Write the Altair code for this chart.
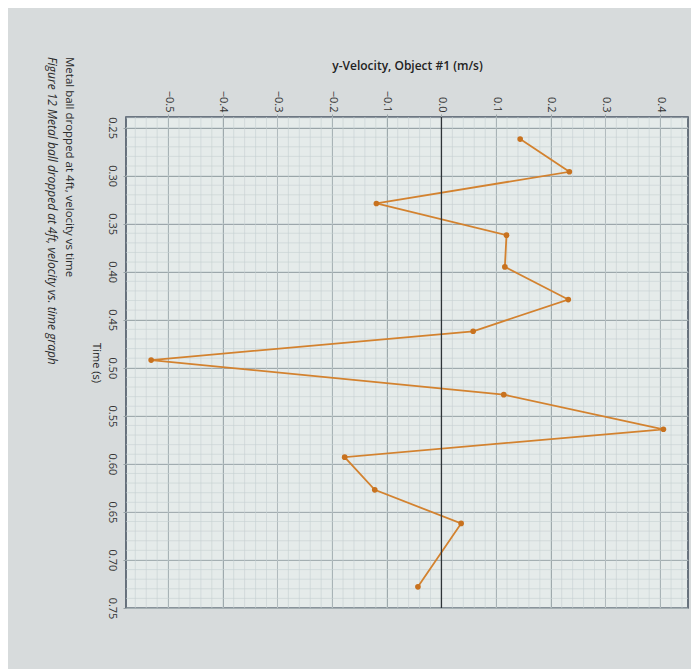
import altair as alt
import pandas as pd
import numpy as np

# Data read from the (rotated) photo
time_s = [0.262, 0.296, 0.329, 0.362, 0.395, 0.429, 0.462, 0.492, 0.528, 0.564, 0.593, 0.627, 0.662, 0.728]
velocity = [0.144, 0.234, -0.119, 0.119, 0.116, 0.232, 0.058, -0.531, 0.114, 0.406, -0.177, -0.122, 0.036, -0.043]

vel_ticks = [-0.5, -0.4, -0.3, -0.2, -0.1, 0.0, 0.1, 0.2, 0.3, 0.4]
time_ticks = [0.25, 0.30, 0.35, 0.40, 0.45, 0.50, 0.55, 0.60, 0.65, 0.70, 0.75]
vel_minor = [round(v, 2) for v in np.arange(-0.56, 0.45, 0.02)]
time_minor = [round(t, 2) for t in np.arange(0.24, 0.751, 0.01)]
zero_line = [0.0]

caption_1 = "Metal ball dropped at 4ft, velocity vs time"
caption_2 = "Figure 12 Metal ball dropped at 4ft, velocity vs. time graph"

VDOM = [-0.577, 0.451]
TDOM = [0.239, 0.75]

df = pd.DataFrame({"t": time_s, "v": velocity})

xs = alt.Scale(domain=VDOM, nice=False, zero=False)
ys = alt.Scale(domain=TDOM, nice=False, zero=False, reverse=True)

x_axis = alt.Axis(orient="top", values=vel_ticks, format=".1f", title="y-Velocity, Object #1 (m/s)",
                  labelAngle=90, labelAlign="right", labelBaseline="middle",
                  grid=True, gridColor="#98a3a7", gridWidth=1,
                  tickSize=3, tickColor="#98a3a7", domain=False,
                  labelFontSize=11, labelColor="#333333", labelPadding=2,
                  titleFontSize=12, titleFontWeight=600, titleColor="#222222", titlePadding=18)
y_axis = alt.Axis(orient="left", values=time_ticks, format=".2f", title="Time (s)",
                  labelAngle=90, labelAlign="center", labelBaseline="top",
                  grid=True, gridColor="#98a3a7", gridWidth=1,
                  tickSize=3, tickColor="#98a3a7", domain=False,
                  labelFontSize=11, labelColor="#333333", labelPadding=6,
                  titleAngle=90, titleBaseline="top", titleFontSize=11, titleFontWeight=500,
                  titleColor="#222222", titlePadding=5)

minor_v = alt.Chart(pd.DataFrame({"v": vel_minor})).mark_rule(color="#c6d0d2", strokeWidth=0.6).encode(
    x=alt.X("v:Q", scale=xs, axis=x_axis))
minor_t = alt.Chart(pd.DataFrame({"t": time_minor})).mark_rule(color="#c6d0d2", strokeWidth=0.6).encode(
    y=alt.Y("t:Q", scale=ys, axis=y_axis))

base = alt.Chart(df)

line = base.mark_line(color="#d3822f", strokeWidth=1.8).encode(
    x=alt.X("v:Q", scale=xs, axis=x_axis),
    y=alt.Y("t:Q", scale=ys, axis=y_axis),
    order=alt.Order("t:Q"),
)
pts = base.mark_circle(color="#c8721f", size=32, opacity=1).encode(
    x=alt.X("v:Q", scale=xs, axis=x_axis), y=alt.Y("t:Q", scale=ys, axis=y_axis))

zero = alt.Chart(pd.DataFrame({"v": zero_line})).mark_rule(color="#2e3438", strokeWidth=1.3).encode(
    x=alt.X("v:Q", scale=xs, axis=x_axis))

cap1 = alt.Chart(pd.DataFrame({"a": [0]})).mark_text(
    angle=90, align="left", baseline="middle", fontSize=11.5, fontWeight=500, color="#2a2a2a", font="Open Sans"
).encode(x=alt.value(-57), y=alt.value(-60), text=alt.value(caption_1))
cap2 = alt.Chart(pd.DataFrame({"a": [0]})).mark_text(
    angle=90, align="left", baseline="middle", fontSize=12, fontStyle="italic", color="#2a2a2a", font="Open Sans"
).encode(x=alt.value(-74), y=alt.value(-60), text=alt.value(caption_2))

chart = alt.layer(minor_v, minor_t, line, zero, pts, cap1, cap2).properties(
    width=562, height=491, background="#d7dbdc",
    padding={"left": 38, "top": 49, "right": 2, "bottom": 50},
).configure_view(fill="#e5ebea", stroke="#4a5664", strokeWidth=1.6).configure_axis(
    labelFont="Open Sans", titleFont="Open Sans")

chart.save("out.html", embed_options={"renderer": "svg", "actions": False})
